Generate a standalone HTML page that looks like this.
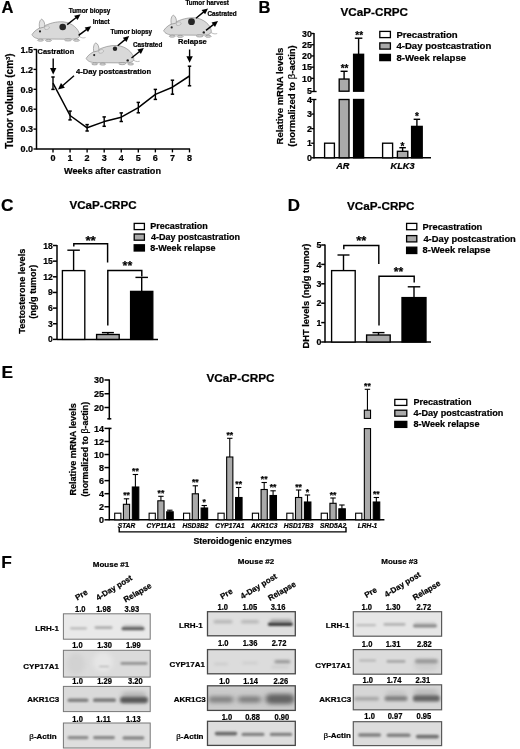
<!DOCTYPE html>
<html lang="en"><head><meta charset="utf-8"><title>VCaP-CRPC figure</title>
<style>
html,body{margin:0;padding:0;background:#fff;}
body{width:520px;height:749px;overflow:hidden;}
svg{display:block;font-family:"Liberation Sans", sans-serif;}
text{stroke:#000;stroke-width:0.22px;}
</style></head><body>
<svg width="520" height="749" viewBox="0 0 520 749">
<rect x="0" y="0" width="520" height="749" fill="#ffffff"/>
<text x="1.40" y="12.70" font-size="16.5" font-weight="bold" text-anchor="start" fill="#000">A</text>
<text x="258.60" y="12.90" font-size="16.5" font-weight="bold" text-anchor="start" fill="#000">B</text>
<text x="1.10" y="210.70" font-size="17.3" font-weight="bold" text-anchor="start" fill="#000">C</text>
<text x="287.80" y="210.70" font-size="16.9" font-weight="bold" text-anchor="start" fill="#000">D</text>
<text x="1.40" y="378.40" font-size="17.3" font-weight="bold" text-anchor="start" fill="#000">E</text>
<text x="1.20" y="568.40" font-size="17.3" font-weight="bold" text-anchor="start" fill="#000">F</text>
<line x1="36.50" y1="48.90" x2="36.50" y2="149.60" stroke="#000" stroke-width="1.5" stroke-linecap="butt"/>
<line x1="36.50" y1="149.00" x2="190.10" y2="149.00" stroke="#000" stroke-width="1.5" stroke-linecap="butt"/>
<line x1="33.50" y1="149.00" x2="36.50" y2="149.00" stroke="#000" stroke-width="1.35" stroke-linecap="butt"/>
<text x="33.00" y="152.20" font-size="9" font-weight="bold" text-anchor="end" fill="#000">0.0</text>
<line x1="33.50" y1="129.10" x2="36.50" y2="129.10" stroke="#000" stroke-width="1.35" stroke-linecap="butt"/>
<text x="33.00" y="132.30" font-size="9" font-weight="bold" text-anchor="end" fill="#000">0.3</text>
<line x1="33.50" y1="109.20" x2="36.50" y2="109.20" stroke="#000" stroke-width="1.35" stroke-linecap="butt"/>
<text x="33.00" y="112.40" font-size="9" font-weight="bold" text-anchor="end" fill="#000">0.6</text>
<line x1="33.50" y1="89.30" x2="36.50" y2="89.30" stroke="#000" stroke-width="1.35" stroke-linecap="butt"/>
<text x="33.00" y="92.50" font-size="9" font-weight="bold" text-anchor="end" fill="#000">0.9</text>
<line x1="33.50" y1="69.40" x2="36.50" y2="69.40" stroke="#000" stroke-width="1.35" stroke-linecap="butt"/>
<text x="33.00" y="72.60" font-size="9" font-weight="bold" text-anchor="end" fill="#000">1.2</text>
<line x1="33.50" y1="49.50" x2="36.50" y2="49.50" stroke="#000" stroke-width="1.35" stroke-linecap="butt"/>
<text x="33.00" y="52.70" font-size="9" font-weight="bold" text-anchor="end" fill="#000">1.5</text>
<line x1="53.00" y1="149.00" x2="53.00" y2="152.40" stroke="#000" stroke-width="1.35" stroke-linecap="butt"/>
<text x="53.00" y="161.30" font-size="9" font-weight="bold" text-anchor="middle" fill="#000">0</text>
<line x1="70.06" y1="149.00" x2="70.06" y2="152.40" stroke="#000" stroke-width="1.35" stroke-linecap="butt"/>
<text x="70.06" y="161.30" font-size="9" font-weight="bold" text-anchor="middle" fill="#000">1</text>
<line x1="87.12" y1="149.00" x2="87.12" y2="152.40" stroke="#000" stroke-width="1.35" stroke-linecap="butt"/>
<text x="87.12" y="161.30" font-size="9" font-weight="bold" text-anchor="middle" fill="#000">2</text>
<line x1="104.19" y1="149.00" x2="104.19" y2="152.40" stroke="#000" stroke-width="1.35" stroke-linecap="butt"/>
<text x="104.19" y="161.30" font-size="9" font-weight="bold" text-anchor="middle" fill="#000">3</text>
<line x1="121.25" y1="149.00" x2="121.25" y2="152.40" stroke="#000" stroke-width="1.35" stroke-linecap="butt"/>
<text x="121.25" y="161.30" font-size="9" font-weight="bold" text-anchor="middle" fill="#000">4</text>
<line x1="138.31" y1="149.00" x2="138.31" y2="152.40" stroke="#000" stroke-width="1.35" stroke-linecap="butt"/>
<text x="138.31" y="161.30" font-size="9" font-weight="bold" text-anchor="middle" fill="#000">5</text>
<line x1="155.38" y1="149.00" x2="155.38" y2="152.40" stroke="#000" stroke-width="1.35" stroke-linecap="butt"/>
<text x="155.38" y="161.30" font-size="9" font-weight="bold" text-anchor="middle" fill="#000">6</text>
<line x1="172.44" y1="149.00" x2="172.44" y2="152.40" stroke="#000" stroke-width="1.35" stroke-linecap="butt"/>
<text x="172.44" y="161.30" font-size="9" font-weight="bold" text-anchor="middle" fill="#000">7</text>
<line x1="189.50" y1="149.00" x2="189.50" y2="152.40" stroke="#000" stroke-width="1.35" stroke-linecap="butt"/>
<text x="189.50" y="161.30" font-size="9" font-weight="bold" text-anchor="middle" fill="#000">8</text>
<text x="112.50" y="174.40" font-size="9.1" font-weight="bold" text-anchor="middle" fill="#000">Weeks after castration</text>
<text x="12.80" y="101.00" font-size="10.0" font-weight="bold" text-anchor="middle" fill="#000" transform="rotate(-90 12.80 101.00)">Tumor volume (cm<tspan font-size="6" dy="-3">3</tspan><tspan dy="3">)</tspan></text>
<polyline points="53.00,83.20 70.06,115.50 87.12,127.80 104.19,121.60 121.25,117.20 138.31,107.60 155.38,94.40 172.44,87.20 189.50,76.00" fill="none" stroke="#000" stroke-width="1.5" stroke-linejoin="round"/>
<line x1="53.00" y1="77.00" x2="53.00" y2="89.40" stroke="#000" stroke-width="1.4" stroke-linecap="butt"/>
<line x1="51.30" y1="77.00" x2="54.70" y2="77.00" stroke="#000" stroke-width="1.5" stroke-linecap="butt"/>
<line x1="51.30" y1="89.40" x2="54.70" y2="89.40" stroke="#000" stroke-width="1.5" stroke-linecap="butt"/>
<line x1="70.06" y1="111.10" x2="70.06" y2="119.90" stroke="#000" stroke-width="1.4" stroke-linecap="butt"/>
<line x1="68.36" y1="111.10" x2="71.76" y2="111.10" stroke="#000" stroke-width="1.5" stroke-linecap="butt"/>
<line x1="68.36" y1="119.90" x2="71.76" y2="119.90" stroke="#000" stroke-width="1.5" stroke-linecap="butt"/>
<line x1="87.12" y1="124.60" x2="87.12" y2="131.00" stroke="#000" stroke-width="1.4" stroke-linecap="butt"/>
<line x1="85.42" y1="124.60" x2="88.83" y2="124.60" stroke="#000" stroke-width="1.5" stroke-linecap="butt"/>
<line x1="85.42" y1="131.00" x2="88.83" y2="131.00" stroke="#000" stroke-width="1.5" stroke-linecap="butt"/>
<line x1="104.19" y1="116.90" x2="104.19" y2="126.30" stroke="#000" stroke-width="1.4" stroke-linecap="butt"/>
<line x1="102.49" y1="116.90" x2="105.89" y2="116.90" stroke="#000" stroke-width="1.5" stroke-linecap="butt"/>
<line x1="102.49" y1="126.30" x2="105.89" y2="126.30" stroke="#000" stroke-width="1.5" stroke-linecap="butt"/>
<line x1="121.25" y1="112.90" x2="121.25" y2="121.50" stroke="#000" stroke-width="1.4" stroke-linecap="butt"/>
<line x1="119.55" y1="112.90" x2="122.95" y2="112.90" stroke="#000" stroke-width="1.5" stroke-linecap="butt"/>
<line x1="119.55" y1="121.50" x2="122.95" y2="121.50" stroke="#000" stroke-width="1.5" stroke-linecap="butt"/>
<line x1="138.31" y1="102.40" x2="138.31" y2="112.80" stroke="#000" stroke-width="1.4" stroke-linecap="butt"/>
<line x1="136.61" y1="102.40" x2="140.01" y2="102.40" stroke="#000" stroke-width="1.5" stroke-linecap="butt"/>
<line x1="136.61" y1="112.80" x2="140.01" y2="112.80" stroke="#000" stroke-width="1.5" stroke-linecap="butt"/>
<line x1="155.38" y1="89.40" x2="155.38" y2="99.40" stroke="#000" stroke-width="1.4" stroke-linecap="butt"/>
<line x1="153.68" y1="89.40" x2="157.07" y2="89.40" stroke="#000" stroke-width="1.5" stroke-linecap="butt"/>
<line x1="153.68" y1="99.40" x2="157.07" y2="99.40" stroke="#000" stroke-width="1.5" stroke-linecap="butt"/>
<line x1="172.44" y1="80.20" x2="172.44" y2="94.20" stroke="#000" stroke-width="1.4" stroke-linecap="butt"/>
<line x1="170.74" y1="80.20" x2="174.14" y2="80.20" stroke="#000" stroke-width="1.5" stroke-linecap="butt"/>
<line x1="170.74" y1="94.20" x2="174.14" y2="94.20" stroke="#000" stroke-width="1.5" stroke-linecap="butt"/>
<line x1="189.50" y1="66.20" x2="189.50" y2="85.80" stroke="#000" stroke-width="1.4" stroke-linecap="butt"/>
<line x1="187.80" y1="66.20" x2="191.20" y2="66.20" stroke="#000" stroke-width="1.5" stroke-linecap="butt"/>
<line x1="187.80" y1="85.80" x2="191.20" y2="85.80" stroke="#000" stroke-width="1.5" stroke-linecap="butt"/>
<text x="37.60" y="54.00" font-size="7.4" font-weight="bold" text-anchor="start" fill="#000">Castration</text>
<line x1="53.20" y1="58.50" x2="53.20" y2="68.60" stroke="#000" stroke-width="1.4" stroke-linecap="butt"/>
<polygon points="53.20,74.60 50.00,68.10 56.40,68.10" fill="#000"/>
<text x="76.00" y="74.20" font-size="7.6" font-weight="bold" text-anchor="start" fill="#000">4-Day postcastration</text>
<line x1="74.00" y1="75.80" x2="62.54" y2="85.68" stroke="#000" stroke-width="1.4" stroke-linecap="butt"/>
<polygon points="58.00,89.60 60.96,83.08 64.88,87.63" fill="#000"/>
<text x="178.00" y="44.00" font-size="7.5" font-weight="bold" text-anchor="start" fill="#000">Relapse</text>
<line x1="189.60" y1="49.50" x2="189.60" y2="56.80" stroke="#000" stroke-width="1.4" stroke-linecap="butt"/>
<polygon points="189.60,62.80 186.40,56.30 192.80,56.30" fill="#000"/>
<g transform="translate(32.00,19.00) scale(1.0)" stroke="#8e8e8e" stroke-width="0.7" fill="#d9d9d9"><path d="M45,15.5 C48,18.5 50.5,19.5 53.5,18.5" fill="none" stroke="#b4b4b4" stroke-width="0.9"/><path d="M0,15.6 C2,12.2 6,9.2 11,7.6 C17,4.4 24,2.4 31,2.8 C40,3.6 47,10 47.6,16 C47.6,19 45,20.2 38,20.2 L10,20 C5,20 1,18.6 0,15.6 Z"/><path d="M7.6,9.2 C6.6,4.4 8,0.6 9.6,0.2 C11.8,1 13.2,4.4 12.6,8 Z" fill="#e2e2e2"/><path d="M12.5,8.5 C14,6.5 16.5,6.3 17.5,8 C17.5,10 15,11 13,10.4 Z" fill="#e0e0e0" stroke="#9a9a9a" stroke-width="0.5"/><ellipse cx="8.5" cy="21.2" rx="3" ry="1.0"/><ellipse cx="16.5" cy="21.4" rx="3" ry="1.0"/><ellipse cx="36" cy="20.9" rx="3.4" ry="1.1"/><ellipse cx="44.5" cy="21.3" rx="3" ry="1.0"/><circle cx="8" cy="12.4" r="1.05" fill="#222" stroke="none"/></g>
<circle cx="62.7" cy="27" r="3.3" fill="#262626"/>
<g transform="translate(86.20,42.70) scale(1.0)" stroke="#8e8e8e" stroke-width="0.7" fill="#d9d9d9"><path d="M45,15.5 C48,18.5 50.5,19.5 53.5,18.5" fill="none" stroke="#b4b4b4" stroke-width="0.9"/><path d="M0,15.6 C2,12.2 6,9.2 11,7.6 C17,4.4 24,2.4 31,2.8 C40,3.6 47,10 47.6,16 C47.6,19 45,20.2 38,20.2 L10,20 C5,20 1,18.6 0,15.6 Z"/><path d="M7.6,9.2 C6.6,4.4 8,0.6 9.6,0.2 C11.8,1 13.2,4.4 12.6,8 Z" fill="#e2e2e2"/><path d="M12.5,8.5 C14,6.5 16.5,6.3 17.5,8 C17.5,10 15,11 13,10.4 Z" fill="#e0e0e0" stroke="#9a9a9a" stroke-width="0.5"/><ellipse cx="8.5" cy="21.2" rx="3" ry="1.0"/><ellipse cx="16.5" cy="21.4" rx="3" ry="1.0"/><ellipse cx="36" cy="20.9" rx="3.4" ry="1.1"/><ellipse cx="44.5" cy="21.3" rx="3" ry="1.0"/><circle cx="8" cy="12.4" r="1.05" fill="#222" stroke="none"/></g>
<circle cx="115" cy="48.8" r="2.2" fill="#262626"/>
<circle cx="127.7" cy="60.4" r="1.2" fill="#222"/>
<g transform="translate(163.70,15.00) scale(1.0)" stroke="#8e8e8e" stroke-width="0.7" fill="#d9d9d9"><path d="M45,15.5 C48,18.5 50.5,19.5 53.5,18.5" fill="none" stroke="#b4b4b4" stroke-width="0.9"/><path d="M0,15.6 C2,12.2 6,9.2 11,7.6 C17,4.4 24,2.4 31,2.8 C40,3.6 47,10 47.6,16 C47.6,19 45,20.2 38,20.2 L10,20 C5,20 1,18.6 0,15.6 Z"/><path d="M7.6,9.2 C6.6,4.4 8,0.6 9.6,0.2 C11.8,1 13.2,4.4 12.6,8 Z" fill="#e2e2e2"/><path d="M12.5,8.5 C14,6.5 16.5,6.3 17.5,8 C17.5,10 15,11 13,10.4 Z" fill="#e0e0e0" stroke="#9a9a9a" stroke-width="0.5"/><ellipse cx="8.5" cy="21.2" rx="3" ry="1.0"/><ellipse cx="16.5" cy="21.4" rx="3" ry="1.0"/><ellipse cx="36" cy="20.9" rx="3.4" ry="1.1"/><ellipse cx="44.5" cy="21.3" rx="3" ry="1.0"/><circle cx="8" cy="12.4" r="1.05" fill="#222" stroke="none"/></g>
<circle cx="191.5" cy="21.7" r="3.4" fill="#262626"/>
<circle cx="203.8" cy="32.4" r="1.2" fill="#222"/>
<line x1="67.20" y1="24.60" x2="76.26" y2="17.57" stroke="#000" stroke-width="1.4" stroke-linecap="butt"/>
<polygon points="80.60,14.20 77.58,20.09 74.14,15.67" fill="#000"/>
<text x="68.80" y="12.60" font-size="6.35" font-weight="bold" text-anchor="start" fill="#000">Tumor biopsy</text>
<line x1="78.60" y1="35.40" x2="86.76" y2="29.44" stroke="#000" stroke-width="1.4" stroke-linecap="butt"/>
<polygon points="91.20,26.20 88.01,32.00 84.70,27.48" fill="#000"/>
<text x="92.80" y="23.80" font-size="6.35" font-weight="bold" text-anchor="start" fill="#000">Intact</text>
<line x1="117.70" y1="45.80" x2="125.00" y2="39.65" stroke="#000" stroke-width="1.4" stroke-linecap="butt"/>
<polygon points="129.20,36.10 126.42,42.11 122.81,37.83" fill="#000"/>
<text x="110.60" y="34.20" font-size="6.35" font-weight="bold" text-anchor="start" fill="#000">Tumor biopsy</text>
<line x1="131.50" y1="58.00" x2="139.53" y2="51.47" stroke="#000" stroke-width="1.4" stroke-linecap="butt"/>
<polygon points="143.80,48.00 140.91,53.96 137.38,49.61" fill="#000"/>
<text x="133.00" y="46.80" font-size="6.35" font-weight="bold" text-anchor="start" fill="#000">Castrated</text>
<line x1="196.00" y1="18.20" x2="203.74" y2="11.88" stroke="#000" stroke-width="1.4" stroke-linecap="butt"/>
<polygon points="208.00,8.40 205.12,14.36 201.58,10.03" fill="#000"/>
<text x="185.40" y="4.80" font-size="6.35" font-weight="bold" text-anchor="start" fill="#000">Tumor harvest</text>
<line x1="206.00" y1="30.40" x2="213.67" y2="24.39" stroke="#000" stroke-width="1.4" stroke-linecap="butt"/>
<polygon points="218.00,21.00 215.00,26.90 211.55,22.50" fill="#000"/>
<text x="207.40" y="16.00" font-size="6.35" font-weight="bold" text-anchor="start" fill="#000">Castrated</text>
<line x1="314.00" y1="158.40" x2="314.00" y2="98.90" stroke="#000" stroke-width="1.5" stroke-linecap="butt"/>
<line x1="314.00" y1="92.10" x2="314.00" y2="32.90" stroke="#000" stroke-width="1.5" stroke-linecap="butt"/>
<line x1="311.20" y1="91.50" x2="316.60" y2="91.50" stroke="#000" stroke-width="1.35" stroke-linecap="butt"/>
<line x1="314.00" y1="99.50" x2="316.40" y2="99.50" stroke="#000" stroke-width="1.35" stroke-linecap="butt"/>
<line x1="314.00" y1="157.80" x2="431.00" y2="157.80" stroke="#000" stroke-width="1.5" stroke-linecap="butt"/>
<line x1="311.20" y1="157.80" x2="314.00" y2="157.80" stroke="#000" stroke-width="1.35" stroke-linecap="butt"/>
<text x="311.90" y="161.00" font-size="8.8" font-weight="bold" text-anchor="end" fill="#000">0</text>
<line x1="311.20" y1="143.23" x2="314.00" y2="143.23" stroke="#000" stroke-width="1.35" stroke-linecap="butt"/>
<text x="311.90" y="146.43" font-size="8.8" font-weight="bold" text-anchor="end" fill="#000">1</text>
<line x1="311.20" y1="128.65" x2="314.00" y2="128.65" stroke="#000" stroke-width="1.35" stroke-linecap="butt"/>
<text x="311.90" y="131.85" font-size="8.8" font-weight="bold" text-anchor="end" fill="#000">2</text>
<line x1="311.20" y1="114.08" x2="314.00" y2="114.08" stroke="#000" stroke-width="1.35" stroke-linecap="butt"/>
<text x="311.90" y="117.28" font-size="8.8" font-weight="bold" text-anchor="end" fill="#000">3</text>
<line x1="311.20" y1="99.50" x2="314.00" y2="99.50" stroke="#000" stroke-width="1.35" stroke-linecap="butt"/>
<text x="311.90" y="102.70" font-size="8.8" font-weight="bold" text-anchor="end" fill="#000">4</text>
<text x="311.90" y="93.60" font-size="8.8" font-weight="bold" text-anchor="end" fill="#000">5</text>
<line x1="311.20" y1="78.38" x2="314.00" y2="78.38" stroke="#000" stroke-width="1.35" stroke-linecap="butt"/>
<text x="311.90" y="81.58" font-size="8.8" font-weight="bold" text-anchor="end" fill="#000">10</text>
<line x1="311.20" y1="67.16" x2="314.00" y2="67.16" stroke="#000" stroke-width="1.35" stroke-linecap="butt"/>
<text x="311.90" y="70.36" font-size="8.8" font-weight="bold" text-anchor="end" fill="#000">15</text>
<line x1="311.20" y1="55.94" x2="314.00" y2="55.94" stroke="#000" stroke-width="1.35" stroke-linecap="butt"/>
<text x="311.90" y="59.14" font-size="8.8" font-weight="bold" text-anchor="end" fill="#000">20</text>
<line x1="311.20" y1="44.72" x2="314.00" y2="44.72" stroke="#000" stroke-width="1.35" stroke-linecap="butt"/>
<text x="311.90" y="47.92" font-size="8.8" font-weight="bold" text-anchor="end" fill="#000">25</text>
<line x1="311.20" y1="33.50" x2="314.00" y2="33.50" stroke="#000" stroke-width="1.35" stroke-linecap="butt"/>
<text x="311.90" y="36.70" font-size="8.8" font-weight="bold" text-anchor="end" fill="#000">30</text>
<text x="342.80" y="168.90" font-size="9.2" font-weight="bold" font-style="italic" text-anchor="middle" fill="#000">AR</text>
<text x="402.50" y="168.90" font-size="9.2" font-weight="bold" font-style="italic" text-anchor="middle" fill="#000">KLK3</text>
<text x="374.30" y="15.80" font-size="11.7" font-weight="bold" text-anchor="middle" fill="#000">VCaP-CRPC</text>
<text x="283.30" y="96.00" font-size="9.5" font-weight="bold" text-anchor="middle" fill="#000" transform="rotate(-90 283.30 96.00)">Relative mRNA levels</text>
<text x="294.60" y="96.00" font-size="9.5" font-weight="bold" text-anchor="middle" fill="#000" transform="rotate(-90 294.60 96.00)">(normalized to <tspan font-weight="normal">β</tspan>-actin)</text>
<rect x="324.60" y="143.20" width="9.80" height="14.60" fill="#fff" stroke="#000" stroke-width="1.35"/>
<rect x="339.20" y="79.05" width="9.80" height="12.15" fill="#aaaaaa" stroke="#000" stroke-width="1.35"/>
<rect x="339.20" y="99.50" width="9.80" height="58.30" fill="#aaaaaa" stroke="#000" stroke-width="1.35"/>
<line x1="344.10" y1="79.05" x2="344.10" y2="71.30" stroke="#000" stroke-width="1.4" stroke-linecap="butt"/>
<line x1="340.60" y1="71.30" x2="347.60" y2="71.30" stroke="#000" stroke-width="1.4" stroke-linecap="butt"/>
<rect x="353.60" y="54.30" width="10.00" height="36.90" fill="#000" stroke="#000" stroke-width="1.35"/>
<rect x="353.60" y="99.50" width="10.00" height="58.30" fill="#000" stroke="#000" stroke-width="1.35"/>
<line x1="358.60" y1="54.30" x2="358.60" y2="38.20" stroke="#000" stroke-width="1.4" stroke-linecap="butt"/>
<line x1="354.85" y1="38.20" x2="362.35" y2="38.20" stroke="#000" stroke-width="1.4" stroke-linecap="butt"/>
<text x="344.60" y="72.10" font-size="10" font-weight="bold" text-anchor="middle" fill="#000">**</text>
<text x="359.20" y="38.50" font-size="10" font-weight="bold" text-anchor="middle" fill="#000">**</text>
<rect x="382.60" y="143.20" width="10.00" height="14.60" fill="#fff" stroke="#000" stroke-width="1.35"/>
<rect x="397.40" y="151.30" width="10.40" height="6.50" fill="#aaaaaa" stroke="#000" stroke-width="1.35"/>
<line x1="402.60" y1="151.30" x2="402.60" y2="147.70" stroke="#000" stroke-width="1.4" stroke-linecap="butt"/>
<line x1="399.35" y1="147.70" x2="405.85" y2="147.70" stroke="#000" stroke-width="1.4" stroke-linecap="butt"/>
<rect x="411.60" y="126.40" width="10.60" height="31.40" fill="#000" stroke="#000" stroke-width="1.35"/>
<line x1="416.90" y1="126.40" x2="416.90" y2="119.30" stroke="#000" stroke-width="1.4" stroke-linecap="butt"/>
<line x1="413.65" y1="119.30" x2="420.15" y2="119.30" stroke="#000" stroke-width="1.4" stroke-linecap="butt"/>
<text x="402.40" y="149.50" font-size="10" font-weight="bold" text-anchor="middle" fill="#000">*</text>
<text x="417.00" y="120.10" font-size="10" font-weight="bold" text-anchor="middle" fill="#000">*</text>
<rect x="379.80" y="31.40" width="10.60" height="6.20" fill="#fff" stroke="#000" stroke-width="1.3"/>
<text x="396.40" y="37.96" font-size="9.6" font-weight="bold" text-anchor="start" fill="#000">Precastration</text>
<rect x="379.80" y="42.90" width="10.60" height="6.20" fill="#aaa" stroke="#000" stroke-width="1.3"/>
<text x="396.40" y="49.46" font-size="9.6" font-weight="bold" text-anchor="start" fill="#000">4-Day postcastration</text>
<rect x="379.80" y="54.40" width="10.60" height="6.20" fill="#000" stroke="#000" stroke-width="1.3"/>
<text x="396.40" y="60.96" font-size="9.6" font-weight="bold" text-anchor="start" fill="#000">8-Week relapse</text>
<line x1="57.00" y1="340.00" x2="57.00" y2="244.90" stroke="#000" stroke-width="1.5" stroke-linecap="butt"/>
<line x1="57.00" y1="339.40" x2="158.00" y2="339.40" stroke="#000" stroke-width="1.5" stroke-linecap="butt"/>
<line x1="53.00" y1="339.40" x2="57.00" y2="339.40" stroke="#000" stroke-width="1.5" stroke-linecap="butt"/>
<text x="52.80" y="342.40" font-size="8.6" font-weight="bold" text-anchor="end" fill="#000">0</text>
<line x1="53.00" y1="323.75" x2="57.00" y2="323.75" stroke="#000" stroke-width="1.5" stroke-linecap="butt"/>
<text x="52.80" y="326.75" font-size="8.6" font-weight="bold" text-anchor="end" fill="#000">3</text>
<line x1="53.00" y1="308.10" x2="57.00" y2="308.10" stroke="#000" stroke-width="1.5" stroke-linecap="butt"/>
<text x="52.80" y="311.10" font-size="8.6" font-weight="bold" text-anchor="end" fill="#000">6</text>
<line x1="53.00" y1="292.45" x2="57.00" y2="292.45" stroke="#000" stroke-width="1.5" stroke-linecap="butt"/>
<text x="52.80" y="295.45" font-size="8.6" font-weight="bold" text-anchor="end" fill="#000">9</text>
<line x1="53.00" y1="276.80" x2="57.00" y2="276.80" stroke="#000" stroke-width="1.5" stroke-linecap="butt"/>
<text x="52.80" y="279.80" font-size="8.6" font-weight="bold" text-anchor="end" fill="#000">12</text>
<line x1="53.00" y1="261.15" x2="57.00" y2="261.15" stroke="#000" stroke-width="1.5" stroke-linecap="butt"/>
<text x="52.80" y="264.15" font-size="8.6" font-weight="bold" text-anchor="end" fill="#000">15</text>
<line x1="53.00" y1="245.50" x2="57.00" y2="245.50" stroke="#000" stroke-width="1.5" stroke-linecap="butt"/>
<text x="52.80" y="248.50" font-size="8.6" font-weight="bold" text-anchor="end" fill="#000">18</text>
<text x="103.00" y="209.20" font-size="11.6" font-weight="bold" text-anchor="middle" fill="#000">VCaP-CRPC</text>
<text x="25.10" y="291.20" font-size="9.2" font-weight="bold" text-anchor="middle" fill="#000" transform="rotate(-90 25.10 291.20)">Testosterone levels</text>
<text x="36.30" y="291.80" font-size="9.2" font-weight="bold" text-anchor="middle" fill="#000" transform="rotate(-90 36.30 291.80)">(ng/g tumor)</text>
<rect x="62.40" y="270.60" width="22.40" height="68.80" fill="#fff" stroke="#000" stroke-width="1.35"/>
<line x1="73.60" y1="270.60" x2="73.60" y2="250.20" stroke="#000" stroke-width="1.4" stroke-linecap="butt"/>
<line x1="67.35" y1="250.20" x2="79.85" y2="250.20" stroke="#000" stroke-width="1.4" stroke-linecap="butt"/>
<rect x="96.60" y="334.50" width="22.60" height="4.90" fill="#aaaaaa" stroke="#000" stroke-width="1.35"/>
<line x1="107.90" y1="334.50" x2="107.90" y2="332.60" stroke="#000" stroke-width="1.4" stroke-linecap="butt"/>
<line x1="101.90" y1="332.60" x2="113.90" y2="332.60" stroke="#000" stroke-width="1.4" stroke-linecap="butt"/>
<rect x="130.60" y="291.40" width="22.20" height="48.00" fill="#000" stroke="#000" stroke-width="1.35"/>
<line x1="141.70" y1="291.40" x2="141.70" y2="277.40" stroke="#000" stroke-width="1.4" stroke-linecap="butt"/>
<line x1="135.45" y1="277.40" x2="147.95" y2="277.40" stroke="#000" stroke-width="1.4" stroke-linecap="butt"/>
<polyline points="73.80,246.50 73.80,243.80 107.60,243.80 107.60,262.50" fill="none" stroke="#000" stroke-width="1.45" stroke-linejoin="miter"/>
<text x="90.60" y="245.23" font-size="13.4" font-weight="bold" text-anchor="middle" fill="#000">**</text>
<polyline points="107.80,325.50 107.80,270.40 141.80,270.40 141.80,276.60" fill="none" stroke="#000" stroke-width="1.45" stroke-linejoin="miter"/>
<text x="127.40" y="270.12" font-size="12.4" font-weight="bold" text-anchor="middle" fill="#000">**</text>
<rect x="134.20" y="223.40" width="10.20" height="6.20" fill="#fff" stroke="#000" stroke-width="1.3"/>
<text x="150.20" y="229.34" font-size="9.0" font-weight="bold" text-anchor="start" fill="#000">Precastration</text>
<rect x="134.20" y="234.00" width="10.20" height="6.20" fill="#aaa" stroke="#000" stroke-width="1.3"/>
<text x="151.00" y="239.94" font-size="9.0" font-weight="bold" text-anchor="start" fill="#000">4-Day postcastration</text>
<rect x="134.20" y="244.80" width="10.20" height="6.20" fill="#000" stroke="#000" stroke-width="1.3"/>
<text x="150.20" y="250.74" font-size="9.0" font-weight="bold" text-anchor="start" fill="#000">8-Week relapse</text>
<line x1="325.00" y1="342.60" x2="325.00" y2="244.40" stroke="#000" stroke-width="1.5" stroke-linecap="butt"/>
<line x1="325.00" y1="342.00" x2="431.00" y2="342.00" stroke="#000" stroke-width="1.5" stroke-linecap="butt"/>
<line x1="321.20" y1="342.00" x2="325.00" y2="342.00" stroke="#000" stroke-width="1.5" stroke-linecap="butt"/>
<text x="321.30" y="345.10" font-size="8.8" font-weight="bold" text-anchor="end" fill="#000">0</text>
<line x1="321.20" y1="322.60" x2="325.00" y2="322.60" stroke="#000" stroke-width="1.5" stroke-linecap="butt"/>
<text x="321.30" y="325.70" font-size="8.8" font-weight="bold" text-anchor="end" fill="#000">1</text>
<line x1="321.20" y1="303.20" x2="325.00" y2="303.20" stroke="#000" stroke-width="1.5" stroke-linecap="butt"/>
<text x="321.30" y="306.30" font-size="8.8" font-weight="bold" text-anchor="end" fill="#000">2</text>
<line x1="321.20" y1="283.80" x2="325.00" y2="283.80" stroke="#000" stroke-width="1.5" stroke-linecap="butt"/>
<text x="321.30" y="286.90" font-size="8.8" font-weight="bold" text-anchor="end" fill="#000">3</text>
<line x1="321.20" y1="264.40" x2="325.00" y2="264.40" stroke="#000" stroke-width="1.5" stroke-linecap="butt"/>
<text x="321.30" y="267.50" font-size="8.8" font-weight="bold" text-anchor="end" fill="#000">4</text>
<line x1="321.20" y1="245.00" x2="325.00" y2="245.00" stroke="#000" stroke-width="1.5" stroke-linecap="butt"/>
<text x="321.30" y="248.10" font-size="8.8" font-weight="bold" text-anchor="end" fill="#000">5</text>
<text x="380.80" y="210.20" font-size="11.7" font-weight="bold" text-anchor="middle" fill="#000">VCaP-CRPC</text>
<text x="309.40" y="296.00" font-size="9.3" font-weight="bold" text-anchor="middle" fill="#000" transform="rotate(-90 309.40 296.00)">DHT levels (ng/g tumor)</text>
<rect x="331.60" y="270.60" width="23.60" height="71.40" fill="#fff" stroke="#000" stroke-width="1.35"/>
<line x1="343.50" y1="270.60" x2="343.50" y2="255.00" stroke="#000" stroke-width="1.4" stroke-linecap="butt"/>
<line x1="337.50" y1="255.00" x2="349.50" y2="255.00" stroke="#000" stroke-width="1.4" stroke-linecap="butt"/>
<rect x="366.60" y="335.00" width="23.60" height="7.00" fill="#aaaaaa" stroke="#000" stroke-width="1.35"/>
<line x1="378.50" y1="335.00" x2="378.50" y2="332.60" stroke="#000" stroke-width="1.4" stroke-linecap="butt"/>
<line x1="372.50" y1="332.60" x2="384.50" y2="332.60" stroke="#000" stroke-width="1.4" stroke-linecap="butt"/>
<rect x="402.00" y="297.60" width="24.00" height="44.40" fill="#000" stroke="#000" stroke-width="1.35"/>
<line x1="414.00" y1="297.60" x2="414.00" y2="286.80" stroke="#000" stroke-width="1.4" stroke-linecap="butt"/>
<line x1="407.75" y1="286.80" x2="420.25" y2="286.80" stroke="#000" stroke-width="1.4" stroke-linecap="butt"/>
<polyline points="343.80,249.20 343.80,245.50 378.80,245.50 378.80,264.00" fill="none" stroke="#000" stroke-width="1.45" stroke-linejoin="miter"/>
<text x="361.30" y="245.23" font-size="13.0" font-weight="bold" text-anchor="middle" fill="#000">**</text>
<polyline points="379.00,325.50 379.00,276.30 414.20,276.30 414.20,282.40" fill="none" stroke="#000" stroke-width="1.45" stroke-linejoin="miter"/>
<text x="398.60" y="276.22" font-size="12.2" font-weight="bold" text-anchor="middle" fill="#000">**</text>
<rect x="406.60" y="223.40" width="10.20" height="6.30" fill="#fff" stroke="#000" stroke-width="1.3"/>
<text x="422.60" y="229.62" font-size="9.35" font-weight="bold" text-anchor="start" fill="#000">Precastration</text>
<rect x="406.60" y="235.60" width="10.20" height="6.30" fill="#aaa" stroke="#000" stroke-width="1.3"/>
<text x="423.40" y="241.82" font-size="9.35" font-weight="bold" text-anchor="start" fill="#000">4-Day postcastration</text>
<rect x="406.60" y="247.20" width="10.20" height="6.30" fill="#000" stroke="#000" stroke-width="1.3"/>
<text x="422.60" y="253.42" font-size="9.35" font-weight="bold" text-anchor="start" fill="#000">8-Week relapse</text>
<line x1="109.30" y1="520.40" x2="109.30" y2="427.80" stroke="#000" stroke-width="1.5" stroke-linecap="butt"/>
<line x1="109.30" y1="419.40" x2="109.30" y2="379.40" stroke="#000" stroke-width="1.5" stroke-linecap="butt"/>
<line x1="107.30" y1="418.80" x2="111.30" y2="418.80" stroke="#000" stroke-width="1.5" stroke-linecap="butt"/>
<line x1="109.30" y1="428.40" x2="111.50" y2="428.40" stroke="#000" stroke-width="1.5" stroke-linecap="butt"/>
<line x1="109.30" y1="519.80" x2="384.40" y2="519.80" stroke="#000" stroke-width="1.5" stroke-linecap="butt"/>
<line x1="104.50" y1="519.80" x2="109.30" y2="519.80" stroke="#000" stroke-width="1.5" stroke-linecap="butt"/>
<text x="104.00" y="523.00" font-size="9.0" font-weight="bold" text-anchor="end" fill="#000">0</text>
<line x1="104.50" y1="506.74" x2="109.30" y2="506.74" stroke="#000" stroke-width="1.5" stroke-linecap="butt"/>
<text x="104.00" y="509.94" font-size="9.0" font-weight="bold" text-anchor="end" fill="#000">2</text>
<line x1="104.50" y1="493.69" x2="109.30" y2="493.69" stroke="#000" stroke-width="1.5" stroke-linecap="butt"/>
<text x="104.00" y="496.89" font-size="9.0" font-weight="bold" text-anchor="end" fill="#000">4</text>
<line x1="104.50" y1="480.63" x2="109.30" y2="480.63" stroke="#000" stroke-width="1.5" stroke-linecap="butt"/>
<text x="104.00" y="483.83" font-size="9.0" font-weight="bold" text-anchor="end" fill="#000">6</text>
<line x1="104.50" y1="467.57" x2="109.30" y2="467.57" stroke="#000" stroke-width="1.5" stroke-linecap="butt"/>
<text x="104.00" y="470.77" font-size="9.0" font-weight="bold" text-anchor="end" fill="#000">8</text>
<line x1="104.50" y1="454.51" x2="109.30" y2="454.51" stroke="#000" stroke-width="1.5" stroke-linecap="butt"/>
<text x="104.00" y="457.71" font-size="9.0" font-weight="bold" text-anchor="end" fill="#000">10</text>
<line x1="104.50" y1="441.46" x2="109.30" y2="441.46" stroke="#000" stroke-width="1.5" stroke-linecap="butt"/>
<text x="104.00" y="444.66" font-size="9.0" font-weight="bold" text-anchor="end" fill="#000">12</text>
<line x1="104.50" y1="428.40" x2="109.30" y2="428.40" stroke="#000" stroke-width="1.5" stroke-linecap="butt"/>
<text x="104.00" y="431.60" font-size="9.0" font-weight="bold" text-anchor="end" fill="#000">14</text>
<line x1="104.50" y1="407.50" x2="109.30" y2="407.50" stroke="#000" stroke-width="1.5" stroke-linecap="butt"/>
<text x="104.00" y="410.70" font-size="9.0" font-weight="bold" text-anchor="end" fill="#000">20</text>
<line x1="104.50" y1="393.75" x2="109.30" y2="393.75" stroke="#000" stroke-width="1.5" stroke-linecap="butt"/>
<text x="104.00" y="396.95" font-size="9.0" font-weight="bold" text-anchor="end" fill="#000">25</text>
<line x1="104.50" y1="380.00" x2="109.30" y2="380.00" stroke="#000" stroke-width="1.5" stroke-linecap="butt"/>
<text x="104.00" y="383.20" font-size="9.0" font-weight="bold" text-anchor="end" fill="#000">30</text>
<text x="240.50" y="381.70" font-size="11.8" font-weight="bold" text-anchor="middle" fill="#000">VCaP-CRPC</text>
<text x="76.30" y="449.40" font-size="9.05" font-weight="bold" text-anchor="middle" fill="#000" transform="rotate(-90 76.30 449.40)">Relative mRNA levels</text>
<text x="87.70" y="449.30" font-size="8.9" font-weight="bold" text-anchor="middle" fill="#000" transform="rotate(-90 87.70 449.30)">(normalized to <tspan font-weight="normal">β</tspan>-actin)</text>
<rect x="114.70" y="513.20" width="6.20" height="6.60" fill="#fff" stroke="#000" stroke-width="1.1"/>
<rect x="123.40" y="504.30" width="6.20" height="15.50" fill="#aaaaaa" stroke="#000" stroke-width="1.1"/>
<line x1="126.50" y1="504.30" x2="126.50" y2="498.80" stroke="#000" stroke-width="1.1" stroke-linecap="butt"/>
<line x1="123.80" y1="498.80" x2="129.20" y2="498.80" stroke="#000" stroke-width="1.1" stroke-linecap="butt"/>
<rect x="132.30" y="487.00" width="6.50" height="32.80" fill="#000" stroke="#000" stroke-width="1.1"/>
<line x1="135.40" y1="487.00" x2="135.40" y2="474.50" stroke="#000" stroke-width="1.1" stroke-linecap="butt"/>
<line x1="132.70" y1="474.50" x2="138.10" y2="474.50" stroke="#000" stroke-width="1.1" stroke-linecap="butt"/>
<text x="126.50" y="498.39" font-size="8.6" font-weight="bold" text-anchor="middle" fill="#000">**</text>
<text x="135.40" y="474.09" font-size="8.6" font-weight="bold" text-anchor="middle" fill="#000">**</text>
<text x="126.60" y="528.40" font-size="6.6" font-weight="bold" font-style="italic" text-anchor="middle" fill="#000">STAR</text>
<rect x="149.12" y="513.20" width="6.20" height="6.60" fill="#fff" stroke="#000" stroke-width="1.1"/>
<rect x="157.82" y="500.80" width="6.20" height="19.00" fill="#aaaaaa" stroke="#000" stroke-width="1.1"/>
<line x1="160.92" y1="500.80" x2="160.92" y2="496.30" stroke="#000" stroke-width="1.1" stroke-linecap="butt"/>
<line x1="158.22" y1="496.30" x2="163.62" y2="496.30" stroke="#000" stroke-width="1.1" stroke-linecap="butt"/>
<rect x="166.72" y="511.80" width="6.50" height="8.00" fill="#000" stroke="#000" stroke-width="1.1"/>
<line x1="169.82" y1="511.80" x2="169.82" y2="510.20" stroke="#000" stroke-width="1.1" stroke-linecap="butt"/>
<line x1="167.12" y1="510.20" x2="172.52" y2="510.20" stroke="#000" stroke-width="1.1" stroke-linecap="butt"/>
<text x="160.92" y="495.89" font-size="8.6" font-weight="bold" text-anchor="middle" fill="#000">**</text>
<text x="161.02" y="528.40" font-size="6.6" font-weight="bold" font-style="italic" text-anchor="middle" fill="#000">CYP11A1</text>
<rect x="183.54" y="513.20" width="6.20" height="6.60" fill="#fff" stroke="#000" stroke-width="1.1"/>
<rect x="192.24" y="493.80" width="6.20" height="26.00" fill="#aaaaaa" stroke="#000" stroke-width="1.1"/>
<line x1="195.34" y1="493.80" x2="195.34" y2="485.80" stroke="#000" stroke-width="1.1" stroke-linecap="butt"/>
<line x1="192.64" y1="485.80" x2="198.04" y2="485.80" stroke="#000" stroke-width="1.1" stroke-linecap="butt"/>
<rect x="201.14" y="508.00" width="6.50" height="11.80" fill="#000" stroke="#000" stroke-width="1.1"/>
<line x1="204.24" y1="508.00" x2="204.24" y2="505.50" stroke="#000" stroke-width="1.1" stroke-linecap="butt"/>
<line x1="201.54" y1="505.50" x2="206.94" y2="505.50" stroke="#000" stroke-width="1.1" stroke-linecap="butt"/>
<text x="195.34" y="485.39" font-size="8.6" font-weight="bold" text-anchor="middle" fill="#000">**</text>
<text x="204.24" y="505.09" font-size="8.6" font-weight="bold" text-anchor="middle" fill="#000">*</text>
<text x="195.44" y="528.40" font-size="6.6" font-weight="bold" font-style="italic" text-anchor="middle" fill="#000">HSD3B2</text>
<rect x="217.96" y="513.20" width="6.20" height="6.60" fill="#fff" stroke="#000" stroke-width="1.1"/>
<rect x="226.66" y="457.00" width="6.20" height="62.80" fill="#aaaaaa" stroke="#000" stroke-width="1.1"/>
<line x1="229.76" y1="457.00" x2="229.76" y2="438.30" stroke="#000" stroke-width="1.1" stroke-linecap="butt"/>
<line x1="227.06" y1="438.30" x2="232.46" y2="438.30" stroke="#000" stroke-width="1.1" stroke-linecap="butt"/>
<rect x="235.56" y="497.50" width="6.50" height="22.30" fill="#000" stroke="#000" stroke-width="1.1"/>
<line x1="238.66" y1="497.50" x2="238.66" y2="487.50" stroke="#000" stroke-width="1.1" stroke-linecap="butt"/>
<line x1="235.96" y1="487.50" x2="241.36" y2="487.50" stroke="#000" stroke-width="1.1" stroke-linecap="butt"/>
<text x="229.76" y="437.89" font-size="8.6" font-weight="bold" text-anchor="middle" fill="#000">**</text>
<text x="238.66" y="487.09" font-size="8.6" font-weight="bold" text-anchor="middle" fill="#000">**</text>
<text x="229.86" y="528.40" font-size="6.6" font-weight="bold" font-style="italic" text-anchor="middle" fill="#000">CYP17A1</text>
<rect x="252.38" y="513.20" width="6.20" height="6.60" fill="#fff" stroke="#000" stroke-width="1.1"/>
<rect x="261.08" y="489.50" width="6.20" height="30.30" fill="#aaaaaa" stroke="#000" stroke-width="1.1"/>
<line x1="264.18" y1="489.50" x2="264.18" y2="482.50" stroke="#000" stroke-width="1.1" stroke-linecap="butt"/>
<line x1="261.48" y1="482.50" x2="266.88" y2="482.50" stroke="#000" stroke-width="1.1" stroke-linecap="butt"/>
<rect x="269.98" y="495.50" width="6.50" height="24.30" fill="#000" stroke="#000" stroke-width="1.1"/>
<line x1="273.08" y1="495.50" x2="273.08" y2="490.80" stroke="#000" stroke-width="1.1" stroke-linecap="butt"/>
<line x1="270.38" y1="490.80" x2="275.78" y2="490.80" stroke="#000" stroke-width="1.1" stroke-linecap="butt"/>
<text x="264.18" y="482.09" font-size="8.6" font-weight="bold" text-anchor="middle" fill="#000">**</text>
<text x="273.08" y="490.39" font-size="8.6" font-weight="bold" text-anchor="middle" fill="#000">**</text>
<text x="264.28" y="528.40" font-size="6.6" font-weight="bold" font-style="italic" text-anchor="middle" fill="#000">AKR1C3</text>
<rect x="286.80" y="513.20" width="6.20" height="6.60" fill="#fff" stroke="#000" stroke-width="1.1"/>
<rect x="295.50" y="497.50" width="6.20" height="22.30" fill="#aaaaaa" stroke="#000" stroke-width="1.1"/>
<line x1="298.60" y1="497.50" x2="298.60" y2="490.00" stroke="#000" stroke-width="1.1" stroke-linecap="butt"/>
<line x1="295.90" y1="490.00" x2="301.30" y2="490.00" stroke="#000" stroke-width="1.1" stroke-linecap="butt"/>
<rect x="304.40" y="502.00" width="6.50" height="17.80" fill="#000" stroke="#000" stroke-width="1.1"/>
<line x1="307.50" y1="502.00" x2="307.50" y2="495.00" stroke="#000" stroke-width="1.1" stroke-linecap="butt"/>
<line x1="304.80" y1="495.00" x2="310.20" y2="495.00" stroke="#000" stroke-width="1.1" stroke-linecap="butt"/>
<text x="298.60" y="489.59" font-size="8.6" font-weight="bold" text-anchor="middle" fill="#000">**</text>
<text x="307.50" y="494.59" font-size="8.6" font-weight="bold" text-anchor="middle" fill="#000">*</text>
<text x="298.70" y="528.40" font-size="6.6" font-weight="bold" font-style="italic" text-anchor="middle" fill="#000">HSD17B3</text>
<rect x="321.22" y="513.20" width="6.20" height="6.60" fill="#fff" stroke="#000" stroke-width="1.1"/>
<rect x="329.92" y="503.30" width="6.20" height="16.50" fill="#aaaaaa" stroke="#000" stroke-width="1.1"/>
<line x1="333.02" y1="503.30" x2="333.02" y2="498.00" stroke="#000" stroke-width="1.1" stroke-linecap="butt"/>
<line x1="330.32" y1="498.00" x2="335.72" y2="498.00" stroke="#000" stroke-width="1.1" stroke-linecap="butt"/>
<rect x="338.82" y="508.80" width="6.50" height="11.00" fill="#000" stroke="#000" stroke-width="1.1"/>
<line x1="341.92" y1="508.80" x2="341.92" y2="505.00" stroke="#000" stroke-width="1.1" stroke-linecap="butt"/>
<line x1="339.22" y1="505.00" x2="344.62" y2="505.00" stroke="#000" stroke-width="1.1" stroke-linecap="butt"/>
<text x="333.02" y="497.59" font-size="8.6" font-weight="bold" text-anchor="middle" fill="#000">**</text>
<text x="333.12" y="528.40" font-size="6.6" font-weight="bold" font-style="italic" text-anchor="middle" fill="#000">SRD5A2</text>
<rect x="355.64" y="513.20" width="6.20" height="6.60" fill="#fff" stroke="#000" stroke-width="1.1"/>
<rect x="364.34" y="428.60" width="6.20" height="91.20" fill="#aaaaaa" stroke="#000" stroke-width="1.1"/>
<rect x="364.34" y="410.20" width="6.20" height="8.20" fill="#aaaaaa" stroke="#000" stroke-width="1.1"/>
<line x1="367.44" y1="410.20" x2="367.44" y2="389.30" stroke="#000" stroke-width="1.1" stroke-linecap="butt"/>
<line x1="364.74" y1="389.30" x2="370.14" y2="389.30" stroke="#000" stroke-width="1.1" stroke-linecap="butt"/>
<rect x="373.24" y="502.00" width="6.50" height="17.80" fill="#000" stroke="#000" stroke-width="1.1"/>
<line x1="376.34" y1="502.00" x2="376.34" y2="497.50" stroke="#000" stroke-width="1.1" stroke-linecap="butt"/>
<line x1="373.64" y1="497.50" x2="379.04" y2="497.50" stroke="#000" stroke-width="1.1" stroke-linecap="butt"/>
<text x="367.44" y="388.89" font-size="8.6" font-weight="bold" text-anchor="middle" fill="#000">**</text>
<text x="376.34" y="497.09" font-size="8.6" font-weight="bold" text-anchor="middle" fill="#000">**</text>
<text x="367.54" y="528.40" font-size="6.6" font-weight="bold" font-style="italic" text-anchor="middle" fill="#000">LRH-1</text>
<polyline points="119.20,527.60 119.20,531.90 346.00,531.90 346.00,527.00" fill="none" stroke="#000" stroke-width="1.4" stroke-linejoin="miter"/>
<text x="242.60" y="543.50" font-size="8.8" font-weight="bold" text-anchor="middle" fill="#000">Steroidogenic enzymes</text>
<rect x="394.80" y="399.40" width="12.00" height="6.00" fill="#fff" stroke="#000" stroke-width="1.3"/>
<text x="413.40" y="405.08" font-size="9.1" font-weight="bold" text-anchor="start" fill="#000">Precastration</text>
<rect x="394.80" y="410.20" width="12.00" height="6.00" fill="#aaa" stroke="#000" stroke-width="1.3"/>
<text x="413.40" y="415.88" font-size="9.1" font-weight="bold" text-anchor="start" fill="#000">4-Day postcastration</text>
<rect x="394.80" y="421.40" width="12.00" height="6.00" fill="#000" stroke="#000" stroke-width="1.3"/>
<text x="413.40" y="427.08" font-size="9.1" font-weight="bold" text-anchor="start" fill="#000">8-Week relapse</text>
<defs><filter id="b1" x="-20%" y="-100%" width="140%" height="300%"><feGaussianBlur stdDeviation="1.3 0.85"/></filter><filter id="b2" x="-20%" y="-100%" width="140%" height="300%"><feGaussianBlur stdDeviation="1.6 1.4"/></filter><filter id="b3" x="-20%" y="-100%" width="140%" height="300%"><feGaussianBlur stdDeviation="2.5 2.2"/></filter></defs>
<text x="111.00" y="567.40" font-size="8.0" font-weight="bold" text-anchor="middle" fill="#000">Mouse #1</text>
<text x="77.20" y="600.40" font-size="8.0" font-weight="bold" text-anchor="start" fill="#000" transform="rotate(-31 77.20 600.40)">Pre</text>
<text x="98.00" y="600.80" font-size="8.0" font-weight="bold" text-anchor="start" fill="#000" transform="rotate(-31.5 98.00 600.80)">4-Day post</text>
<text x="125.60" y="602.60" font-size="8.0" font-weight="bold" text-anchor="start" fill="#000" transform="rotate(-30 125.60 602.60)">Relapse</text>
<clipPath id="c00"><rect x="63.40" y="613.80" width="86.80" height="25.40"/></clipPath>
<rect x="63.40" y="613.80" width="86.80" height="25.40" fill="#e9e9e9"/>
<g clip-path="url(#c00)">
<rect x="123.00" y="624.90" width="20.00" height="3.00" rx="1.50" fill="#bdbdbd" opacity="1" filter="url(#b2)"/>
<rect x="70.00" y="627.20" width="17.00" height="2.20" rx="1.10" fill="#b8b8b8" opacity="1" filter="url(#b1)"/>
<rect x="94.50" y="626.30" width="18.00" height="2.60" rx="1.30" fill="#adadad" opacity="1" filter="url(#b1)"/>
<rect x="121.50" y="627.10" width="23.00" height="3.20" rx="1.60" fill="#606060" opacity="1" filter="url(#b1)"/>
</g>
<rect x="63.40" y="613.80" width="86.80" height="25.40" fill="none" stroke="#777777" stroke-width="1.0"/>
<text x="58.90" y="630.76" font-size="8.0" font-weight="bold" text-anchor="end" fill="#000">LRH-1</text>
<text x="0.00" y="0.00" font-size="8.4" font-weight="bold" text-anchor="middle" fill="#000" transform="translate(80.30 612.02) scale(0.9 1)">1.0</text>
<text x="0.00" y="0.00" font-size="8.4" font-weight="bold" text-anchor="middle" fill="#000" transform="translate(103.50 612.02) scale(0.9 1)">1.98</text>
<text x="0.00" y="0.00" font-size="8.4" font-weight="bold" text-anchor="middle" fill="#000" transform="translate(131.80 612.02) scale(0.9 1)">3.93</text>
<clipPath id="c01"><rect x="63.40" y="650.30" width="86.80" height="26.80"/></clipPath>
<rect x="63.40" y="650.30" width="86.80" height="26.80" fill="#dbdbdb"/>
<g clip-path="url(#c01)">
<rect x="93.00" y="652.00" width="20.00" height="20.00" rx="10.00" fill="#e6e6e6" opacity="1" filter="url(#b3)"/>
<rect x="67.00" y="653.00" width="18.00" height="22.00" rx="11.00" fill="#d2d2d2" opacity="1" filter="url(#b3)"/>
<rect x="120.50" y="662.00" width="27.00" height="2.80" rx="1.40" fill="#909090" opacity="1" filter="url(#b1)"/>
<rect x="99.00" y="665.90" width="10.00" height="1.20" rx="0.60" fill="#a4a4a4" opacity="1" filter="url(#b1)"/>
</g>
<rect x="63.40" y="650.30" width="86.80" height="26.80" fill="none" stroke="#777777" stroke-width="1.0"/>
<text x="58.90" y="668.86" font-size="8.0" font-weight="bold" text-anchor="end" fill="#000">CYP17A1</text>
<text x="0.00" y="0.00" font-size="8.4" font-weight="bold" text-anchor="middle" fill="#000" transform="translate(77.40 648.02) scale(0.9 1)">1.0</text>
<text x="0.00" y="0.00" font-size="8.4" font-weight="bold" text-anchor="middle" fill="#000" transform="translate(104.50 648.02) scale(0.9 1)">1.30</text>
<text x="0.00" y="0.00" font-size="8.4" font-weight="bold" text-anchor="middle" fill="#000" transform="translate(133.40 648.02) scale(0.9 1)">1.99</text>
<clipPath id="c02"><rect x="63.40" y="686.40" width="86.80" height="25.20"/></clipPath>
<rect x="63.40" y="686.40" width="86.80" height="25.20" fill="#dadada"/>
<g clip-path="url(#c02)">
<rect x="122.00" y="692.00" width="24.00" height="5.00" rx="2.50" fill="#b4b4b4" opacity="1" filter="url(#b3)"/>
<rect x="120.00" y="696.80" width="28.00" height="6.40" rx="3.20" fill="#585858" opacity="1" filter="url(#b2)"/>
<rect x="67.50" y="698.40" width="21.00" height="3.60" rx="1.80" fill="#808080" opacity="1" filter="url(#b1)"/>
<rect x="93.00" y="698.30" width="23.00" height="3.80" rx="1.90" fill="#7c7c7c" opacity="1" filter="url(#b1)"/>
</g>
<rect x="63.40" y="686.40" width="86.80" height="25.20" fill="none" stroke="#777777" stroke-width="1.0"/>
<text x="59.20" y="702.46" font-size="8.0" font-weight="bold" text-anchor="end" fill="#000">AKR1C3</text>
<text x="0.00" y="0.00" font-size="8.4" font-weight="bold" text-anchor="middle" fill="#000" transform="translate(77.60 684.42) scale(0.9 1)">1.0</text>
<text x="0.00" y="0.00" font-size="8.4" font-weight="bold" text-anchor="middle" fill="#000" transform="translate(104.50 684.42) scale(0.9 1)">1.29</text>
<text x="0.00" y="0.00" font-size="8.4" font-weight="bold" text-anchor="middle" fill="#000" transform="translate(135.40 684.42) scale(0.9 1)">3.20</text>
<clipPath id="c03"><rect x="63.40" y="723.00" width="86.80" height="25.00"/></clipPath>
<rect x="63.40" y="723.00" width="86.80" height="25.00" fill="#dedede"/>
<g clip-path="url(#c03)">
<rect x="67.50" y="735.95" width="21.00" height="3.30" rx="1.65" fill="#8a8a8a" opacity="1" filter="url(#b1)"/>
<rect x="93.00" y="735.90" width="22.00" height="3.40" rx="1.70" fill="#868686" opacity="1" filter="url(#b1)"/>
<rect x="122.40" y="736.30" width="22.00" height="3.40" rx="1.70" fill="#868686" opacity="1" filter="url(#b1)"/>
</g>
<rect x="63.40" y="723.00" width="86.80" height="25.00" fill="none" stroke="#777777" stroke-width="1.0"/>
<text x="56.60" y="739.06" font-size="8.0" font-weight="bold" text-anchor="end" fill="#000"><tspan font-weight="normal">β</tspan>-Actin</text>
<text x="0.00" y="0.00" font-size="8.4" font-weight="bold" text-anchor="middle" fill="#000" transform="translate(77.60 721.82) scale(0.9 1)">1.0</text>
<text x="0.00" y="0.00" font-size="8.4" font-weight="bold" text-anchor="middle" fill="#000" transform="translate(103.50 721.82) scale(0.9 1)">1.11</text>
<text x="0.00" y="0.00" font-size="8.4" font-weight="bold" text-anchor="middle" fill="#000" transform="translate(133.40 721.82) scale(0.9 1)">1.13</text>
<text x="256.00" y="564.20" font-size="8.0" font-weight="bold" text-anchor="middle" fill="#000">Mouse #2</text>
<text x="222.20" y="599.40" font-size="8.0" font-weight="bold" text-anchor="start" fill="#000" transform="rotate(-31 222.20 599.40)">Pre</text>
<text x="242.60" y="599.20" font-size="8.0" font-weight="bold" text-anchor="start" fill="#000" transform="rotate(-31.5 242.60 599.20)">4-Day post</text>
<text x="270.00" y="601.00" font-size="8.0" font-weight="bold" text-anchor="start" fill="#000" transform="rotate(-30 270.00 601.00)">Relapse</text>
<clipPath id="c10"><rect x="207.50" y="611.70" width="87.80" height="24.10"/></clipPath>
<rect x="207.50" y="611.70" width="87.80" height="24.10" fill="#dfdfdf"/>
<g clip-path="url(#c10)">
<rect x="213.50" y="620.30" width="19.00" height="3.00" rx="1.50" fill="#b0b0b0" opacity="1" filter="url(#b2)"/>
<rect x="241.00" y="620.30" width="18.00" height="3.00" rx="1.50" fill="#b2b2b2" opacity="1" filter="url(#b2)"/>
<rect x="270.00" y="619.20" width="22.00" height="3.60" rx="1.80" fill="#a4a4a4" opacity="1" filter="url(#b2)"/>
<rect x="267.90" y="622.55" width="25.00" height="3.50" rx="1.75" fill="#3a3a3a" opacity="1" filter="url(#b1)"/>
</g>
<rect x="207.50" y="611.70" width="87.80" height="24.10" fill="none" stroke="#484848" stroke-width="1.3"/>
<text x="202.60" y="628.06" font-size="8.0" font-weight="bold" text-anchor="end" fill="#000">LRH-1</text>
<text x="0.00" y="0.00" font-size="8.4" font-weight="bold" text-anchor="middle" fill="#000" transform="translate(222.70 610.02) scale(0.9 1)">1.0</text>
<text x="0.00" y="0.00" font-size="8.4" font-weight="bold" text-anchor="middle" fill="#000" transform="translate(249.80 610.02) scale(0.9 1)">1.05</text>
<text x="0.00" y="0.00" font-size="8.4" font-weight="bold" text-anchor="middle" fill="#000" transform="translate(278.00 610.02) scale(0.9 1)">3.16</text>
<clipPath id="c11"><rect x="207.50" y="649.60" width="87.80" height="24.20"/></clipPath>
<rect x="207.50" y="649.60" width="87.80" height="24.20" fill="#dcdcdc"/>
<g clip-path="url(#c11)">
<rect x="214.00" y="662.80" width="14.00" height="2.40" rx="1.20" fill="#cacaca" opacity="1" filter="url(#b2)"/>
<rect x="242.00" y="661.80" width="16.00" height="2.40" rx="1.20" fill="#cccccc" opacity="1" filter="url(#b2)"/>
<rect x="274.40" y="660.30" width="16.00" height="3.00" rx="1.50" fill="#8c8c8c" opacity="1" filter="url(#b2)"/>
<rect x="271.00" y="665.50" width="18.00" height="3.00" rx="1.50" fill="#cdcdcd" opacity="1" filter="url(#b2)"/>
</g>
<rect x="207.50" y="649.60" width="87.80" height="24.20" fill="none" stroke="#484848" stroke-width="1.3"/>
<text x="205.00" y="666.56" font-size="8.0" font-weight="bold" text-anchor="end" fill="#000">CYP17A1</text>
<text x="0.00" y="0.00" font-size="8.4" font-weight="bold" text-anchor="middle" fill="#000" transform="translate(223.20 645.62) scale(0.9 1)">1.0</text>
<text x="0.00" y="0.00" font-size="8.4" font-weight="bold" text-anchor="middle" fill="#000" transform="translate(250.00 645.62) scale(0.9 1)">1.36</text>
<text x="0.00" y="0.00" font-size="8.4" font-weight="bold" text-anchor="middle" fill="#000" transform="translate(279.00 645.62) scale(0.9 1)">2.72</text>
<clipPath id="c12"><rect x="207.50" y="685.80" width="87.80" height="24.60"/></clipPath>
<rect x="207.50" y="685.80" width="87.80" height="24.60" fill="#cbcbcb"/>
<g clip-path="url(#c12)">
<rect x="208.50" y="696.40" width="25.00" height="6.00" rx="3.00" fill="#7c7c7c" opacity="1" filter="url(#b3)"/>
<rect x="238.00" y="696.40" width="23.00" height="6.00" rx="3.00" fill="#787878" opacity="1" filter="url(#b3)"/>
<rect x="265.50" y="694.00" width="29.00" height="10.00" rx="5.00" fill="#646464" opacity="1" filter="url(#b3)"/>
</g>
<rect x="207.50" y="685.80" width="87.80" height="24.60" fill="none" stroke="#484848" stroke-width="1.3"/>
<text x="205.80" y="701.56" font-size="8.0" font-weight="bold" text-anchor="end" fill="#000">AKR1C3</text>
<text x="0.00" y="0.00" font-size="8.4" font-weight="bold" text-anchor="middle" fill="#000" transform="translate(224.40 684.22) scale(0.9 1)">1.0</text>
<text x="0.00" y="0.00" font-size="8.4" font-weight="bold" text-anchor="middle" fill="#000" transform="translate(250.50 684.22) scale(0.9 1)">1.14</text>
<text x="0.00" y="0.00" font-size="8.4" font-weight="bold" text-anchor="middle" fill="#000" transform="translate(280.80 684.22) scale(0.9 1)">2.26</text>
<clipPath id="c13"><rect x="207.50" y="721.30" width="87.80" height="24.10"/></clipPath>
<rect x="207.50" y="721.30" width="87.80" height="24.10" fill="#dedede"/>
<g clip-path="url(#c13)">
<rect x="214.75" y="731.80" width="22.50" height="3.60" rx="1.80" fill="#6a6a6a" opacity="1" filter="url(#b1)"/>
<rect x="241.50" y="732.75" width="23.00" height="3.30" rx="1.65" fill="#808080" opacity="1" filter="url(#b1)"/>
<rect x="269.75" y="732.75" width="22.50" height="3.30" rx="1.65" fill="#808080" opacity="1" filter="url(#b1)"/>
</g>
<rect x="207.50" y="721.30" width="87.80" height="24.10" fill="none" stroke="#484848" stroke-width="1.3"/>
<text x="203.50" y="739.16" font-size="8.0" font-weight="bold" text-anchor="end" fill="#000"><tspan font-weight="normal">β</tspan>-Actin</text>
<text x="0.00" y="0.00" font-size="8.4" font-weight="bold" text-anchor="middle" fill="#000" transform="translate(226.90 719.82) scale(0.9 1)">1.0</text>
<text x="0.00" y="0.00" font-size="8.4" font-weight="bold" text-anchor="middle" fill="#000" transform="translate(252.50 719.82) scale(0.9 1)">0.88</text>
<text x="0.00" y="0.00" font-size="8.4" font-weight="bold" text-anchor="middle" fill="#000" transform="translate(281.80 719.82) scale(0.9 1)">0.90</text>
<text x="399.50" y="563.80" font-size="8.0" font-weight="bold" text-anchor="middle" fill="#000">Mouse #3</text>
<text x="366.40" y="598.00" font-size="8.0" font-weight="bold" text-anchor="start" fill="#000" transform="rotate(-31 366.40 598.00)">Pre</text>
<text x="386.40" y="597.40" font-size="8.0" font-weight="bold" text-anchor="start" fill="#000" transform="rotate(-31.5 386.40 597.40)">4-Day post</text>
<text x="414.80" y="600.60" font-size="8.0" font-weight="bold" text-anchor="start" fill="#000" transform="rotate(-31 414.80 600.60)">Relapse</text>
<clipPath id="c20"><rect x="353.30" y="611.70" width="88.30" height="24.50"/></clipPath>
<rect x="353.30" y="611.70" width="88.30" height="24.50" fill="#e6e6e6"/>
<g clip-path="url(#c20)">
<rect x="414.00" y="621.90" width="22.00" height="3.00" rx="1.50" fill="#cccccc" opacity="1" filter="url(#b2)"/>
<rect x="356.00" y="624.10" width="20.00" height="2.20" rx="1.10" fill="#bcbcbc" opacity="1" filter="url(#b1)"/>
<rect x="383.50" y="623.10" width="22.00" height="2.60" rx="1.30" fill="#b2b2b2" opacity="1" filter="url(#b1)"/>
<rect x="413.00" y="624.20" width="24.00" height="3.20" rx="1.60" fill="#8a8a8a" opacity="1" filter="url(#b1)"/>
</g>
<rect x="353.30" y="611.70" width="88.30" height="24.50" fill="none" stroke="#5a5a5a" stroke-width="1.2"/>
<text x="349.40" y="628.06" font-size="8.0" font-weight="bold" text-anchor="end" fill="#000">LRH-1</text>
<text x="0.00" y="0.00" font-size="8.4" font-weight="bold" text-anchor="middle" fill="#000" transform="translate(366.80 610.02) scale(0.9 1)">1.0</text>
<text x="0.00" y="0.00" font-size="8.4" font-weight="bold" text-anchor="middle" fill="#000" transform="translate(393.00 610.02) scale(0.9 1)">1.30</text>
<text x="0.00" y="0.00" font-size="8.4" font-weight="bold" text-anchor="middle" fill="#000" transform="translate(423.80 610.02) scale(0.9 1)">2.72</text>
<clipPath id="c21"><rect x="353.30" y="649.60" width="88.30" height="24.60"/></clipPath>
<rect x="353.30" y="649.60" width="88.30" height="24.60" fill="#dbdbdb"/>
<g clip-path="url(#c21)">
<rect x="414.00" y="659.00" width="24.00" height="12.00" rx="6.00" fill="#cecece" opacity="1" filter="url(#b3)"/>
<rect x="414.90" y="659.20" width="23.00" height="4.00" rx="2.00" fill="#949494" opacity="1" filter="url(#b2)"/>
<rect x="359.10" y="659.60" width="17.00" height="2.00" rx="1.00" fill="#b2b2b2" opacity="1" filter="url(#b1)"/>
<rect x="386.50" y="660.10" width="19.00" height="2.60" rx="1.30" fill="#a6a6a6" opacity="1" filter="url(#b1)"/>
</g>
<rect x="353.30" y="649.60" width="88.30" height="24.60" fill="none" stroke="#5a5a5a" stroke-width="1.2"/>
<text x="350.80" y="668.06" font-size="8.0" font-weight="bold" text-anchor="end" fill="#000">CYP17A1</text>
<text x="0.00" y="0.00" font-size="8.4" font-weight="bold" text-anchor="middle" fill="#000" transform="translate(367.10 647.02) scale(0.9 1)">1.0</text>
<text x="0.00" y="0.00" font-size="8.4" font-weight="bold" text-anchor="middle" fill="#000" transform="translate(393.00 647.02) scale(0.9 1)">1.31</text>
<text x="0.00" y="0.00" font-size="8.4" font-weight="bold" text-anchor="middle" fill="#000" transform="translate(424.40 647.02) scale(0.9 1)">2.82</text>
<clipPath id="c22"><rect x="353.30" y="684.80" width="88.30" height="25.00"/></clipPath>
<rect x="353.30" y="684.80" width="88.30" height="25.00" fill="#d6d6d6"/>
<g clip-path="url(#c22)">
<rect x="414.00" y="689.00" width="24.00" height="8.00" rx="4.00" fill="#bcbcbc" opacity="1" filter="url(#b3)"/>
<rect x="386.00" y="691.00" width="20.00" height="5.00" rx="2.50" fill="#c2c2c2" opacity="1" filter="url(#b3)"/>
<rect x="354.10" y="697.10" width="25.00" height="3.40" rx="1.70" fill="#a2a2a2" opacity="1" filter="url(#b2)"/>
<rect x="384.50" y="695.90" width="23.00" height="5.00" rx="2.50" fill="#808080" opacity="1" filter="url(#b2)"/>
<rect x="412.90" y="695.20" width="27.00" height="6.40" rx="3.20" fill="#646464" opacity="1" filter="url(#b2)"/>
</g>
<rect x="353.30" y="684.80" width="88.30" height="25.00" fill="none" stroke="#5a5a5a" stroke-width="1.2"/>
<text x="351.30" y="702.46" font-size="8.0" font-weight="bold" text-anchor="end" fill="#000">AKR1C3</text>
<text x="0.00" y="0.00" font-size="8.4" font-weight="bold" text-anchor="middle" fill="#000" transform="translate(367.70 682.62) scale(0.9 1)">1.0</text>
<text x="0.00" y="0.00" font-size="8.4" font-weight="bold" text-anchor="middle" fill="#000" transform="translate(394.00 682.62) scale(0.9 1)">1.74</text>
<text x="0.00" y="0.00" font-size="8.4" font-weight="bold" text-anchor="middle" fill="#000" transform="translate(422.80 682.62) scale(0.9 1)">2.31</text>
<clipPath id="c23"><rect x="353.30" y="721.70" width="88.30" height="23.90"/></clipPath>
<rect x="353.30" y="721.70" width="88.30" height="23.90" fill="#dcdcdc"/>
<g clip-path="url(#c23)">
<rect x="358.10" y="733.20" width="23.00" height="3.60" rx="1.80" fill="#808080" opacity="1" filter="url(#b1)"/>
<rect x="386.60" y="733.40" width="24.00" height="3.60" rx="1.80" fill="#808080" opacity="1" filter="url(#b1)"/>
<rect x="415.90" y="734.70" width="23.00" height="3.80" rx="1.90" fill="#707070" opacity="1" filter="url(#b1)"/>
</g>
<rect x="353.30" y="721.70" width="88.30" height="23.90" fill="none" stroke="#5a5a5a" stroke-width="1.2"/>
<text x="350.80" y="738.26" font-size="8.0" font-weight="bold" text-anchor="end" fill="#000"><tspan font-weight="normal">β</tspan>-Actin</text>
<text x="0.00" y="0.00" font-size="8.4" font-weight="bold" text-anchor="middle" fill="#000" transform="translate(369.60 719.42) scale(0.9 1)">1.0</text>
<text x="0.00" y="0.00" font-size="8.4" font-weight="bold" text-anchor="middle" fill="#000" transform="translate(395.00 719.42) scale(0.9 1)">0.97</text>
<text x="0.00" y="0.00" font-size="8.4" font-weight="bold" text-anchor="middle" fill="#000" transform="translate(423.80 719.42) scale(0.9 1)">0.95</text>
</svg>
</body></html>
